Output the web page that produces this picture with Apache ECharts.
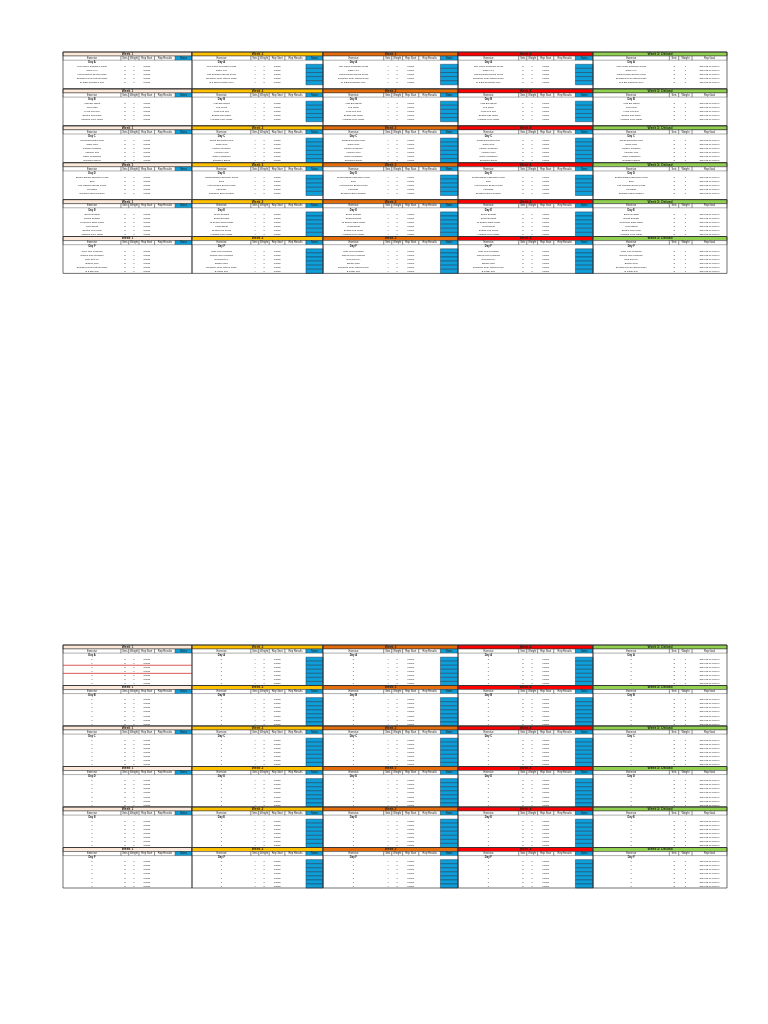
<!DOCTYPE html>
<html>
<head>
<meta charset="utf-8">
<style>html,body{margin:0;background:#fff}#main{width:768px;height:1024px}</style>
<script src="https://cdn.jsdelivr.net/npm/echarts@6/dist/echarts.min.js"></script>
</head>
<body>
<div id="main"></div>
<script>
// week panels
var weekNames = ['Week 1', 'Week 2', 'Week 3', 'Week 4', 'Week 5: Deload'];
var weekColors = ['#fde9d9', '#ffc000', '#e46c0a', '#ff0000', '#92d050'];
var dayNames = ['Day A', 'Day B', 'Day C', 'Day D', 'Day E', 'Day F'];
var headCols = ['Exercise', 'Sets', 'Weight', 'Rep Start', 'Rep Results', 'Notes'];
var deloadCols = ['Exercise', 'Sets', 'Weight', 'Rep Goal'];
var exercises = [
  ['Low Incline Dumbbell Press', 'Cable Flye', 'Flat Dumbbell Bench Press', 'Dumbbell Rear Lateral Raise', 'E-Z Bar Dumbbell Curl'],
  ['High Bar Squat', 'Leg Press', 'Lying Leg Curl', 'Seated Calf Raise', 'Hanging Knee Raise'],
  ['Chest Supported Row', 'Cable Row', 'Parallel Pulldown', 'Hammer Curl', 'Cable Pushdown', 'Dumbbell Shrug'],
  ['Seated Barbell Shoulder Press', 'Dips', 'Flat Machine Bench Press', 'Lat Raise', 'Dumbbell Skull Crusher'],
  ['Sumo Deadlift', 'Deficit Deadlift', '45 Degree Back Raise', 'Front Squat', 'Seated Leg Press', 'Hanging Knee Raise'],
  ['Wide Grip Pulldown', 'Narrow Grip Pulldown', 'Rear Delt Fly', 'Barbell Row', 'Dumbbell Rear Lateral Raise', 'E-Z Bar Curl']
];
var setsByWeek = [3, 4, 4, 5, 3];
var weightVal = 0;
var repStart = ['0/NaN', '0/NaN', '0/NaN', '0/NaN'];
var deloadGoal = '2/3 reps of Week 1';
var blankRows = 7; // second block rows per day
var panelX = [63, 192, 323, 458, 593, 727];

var chart = echarts.init(document.getElementById('main'));
var els = [];
var f = 'Liberation Sans';
function rect(x, y, w, h, fill, stroke, lw) {
  els.push({type: 'rect', shape: {x: x, y: y, width: w, height: h},
    style: {fill: fill || 'none', stroke: stroke || null, lineWidth: lw || 0.4}, silent: true});
}
function txt(x, y, s, size, align, bold) {
  els.push({type: 'text', x: x, y: y, style: {text: s, fontSize: size, fontFamily: f,
    fill: '#222', align: align || 'center', verticalAlign: 'middle', fontWeight: bold ? 'bold' : 'normal'}, silent: true});
}

function drawBlock(top, rowH, filled) {
  for (var d = 0; d < 6; d++) {
    var rowsList = filled ? exercises[d] : new Array(blankRows).fill('0');
    var nRows = filled ? 6 : blankRows;
    var gH = (nRows + 3) * rowH;
    var gy = top + d * gH;
    for (var w = 0; w < 5; w++) {
      var x0 = panelX[w], pw = panelX[w + 1] - x0;
      var dl = w === 4;
      // week header
      rect(x0, gy, pw, rowH, weekColors[w], '#333', 0.8);
      txt(x0 + pw / 2, gy + rowH / 2, weekNames[w], 3.4, 'center', true);
      // column header
      var cy = gy + rowH;
      var cw = dl ? [0.57, 0.07, 0.1, 0.26] : [0.45, 0.06, 0.08, 0.12, 0.16, 0.13];
      var cols = dl ? deloadCols : headCols;
      var cx = x0;
      for (var c = 0; c < cols.length; c++) {
        var ww = cw[c] * pw;
        rect(cx, cy, ww, rowH, (!dl && c === 5) ? '#0e9ed8' : '#fff', '#333', 0.4);
        txt(cx + ww / 2, cy + rowH / 2, cols[c], 2.6);
        cx += ww;
      }
      txt(x0 + cw[0] * pw / 2, cy + rowH * 1.5, dayNames[d], 2.6, 'center', true);
      // exercise rows
      for (var r = 0; r < rowsList.length; r++) {
        var ry = cy + rowH * (2 + r) + rowH / 2;
        txt(x0 + cw[0] * pw / 2, ry, rowsList[r], 2.4);
        var xx = x0 + cw[0] * pw;
        txt(xx + cw[1] * pw / 2, ry, String(setsByWeek[w]), 2.4);
        xx += cw[1] * pw;
        txt(xx + cw[2] * pw / 2, ry, String(weightVal), 2.4);
        xx += cw[2] * pw;
        if (dl) {
          txt(xx + cw[3] * pw / 2, ry, deloadGoal, 2.4);
        } else {
          txt(xx + cw[3] * pw / 2, ry, repStart[w], 2.4);
          if (w > 0) rect(x0 + pw - cw[5] * pw, ry - rowH / 2, cw[5] * pw, rowH, '#0e9ed8', '#1a3a5a', 0.5);
        }
      }
      // panel outline
      rect(x0, gy, pw, gH, 'none', '#333', 0.7);
    }
    if (!filled && d === 0) {
      // red highlight lines across week 1 rows
      [2, 4].forEach(function (k) {
        els.push({type: 'line', shape: {x1: panelX[0], y1: gy + rowH * (3 + k), x2: panelX[1], y2: gy + rowH * (3 + k)},
          style: {stroke: '#d01010', lineWidth: 0.7}, silent: true});
      });
    }
  }
}

drawBlock(52, 4.1, true);
drawBlock(645, 4.05, false);

chart.setOption({animation: false, graphic: {elements: els}});
</script>
</body>
</html>
